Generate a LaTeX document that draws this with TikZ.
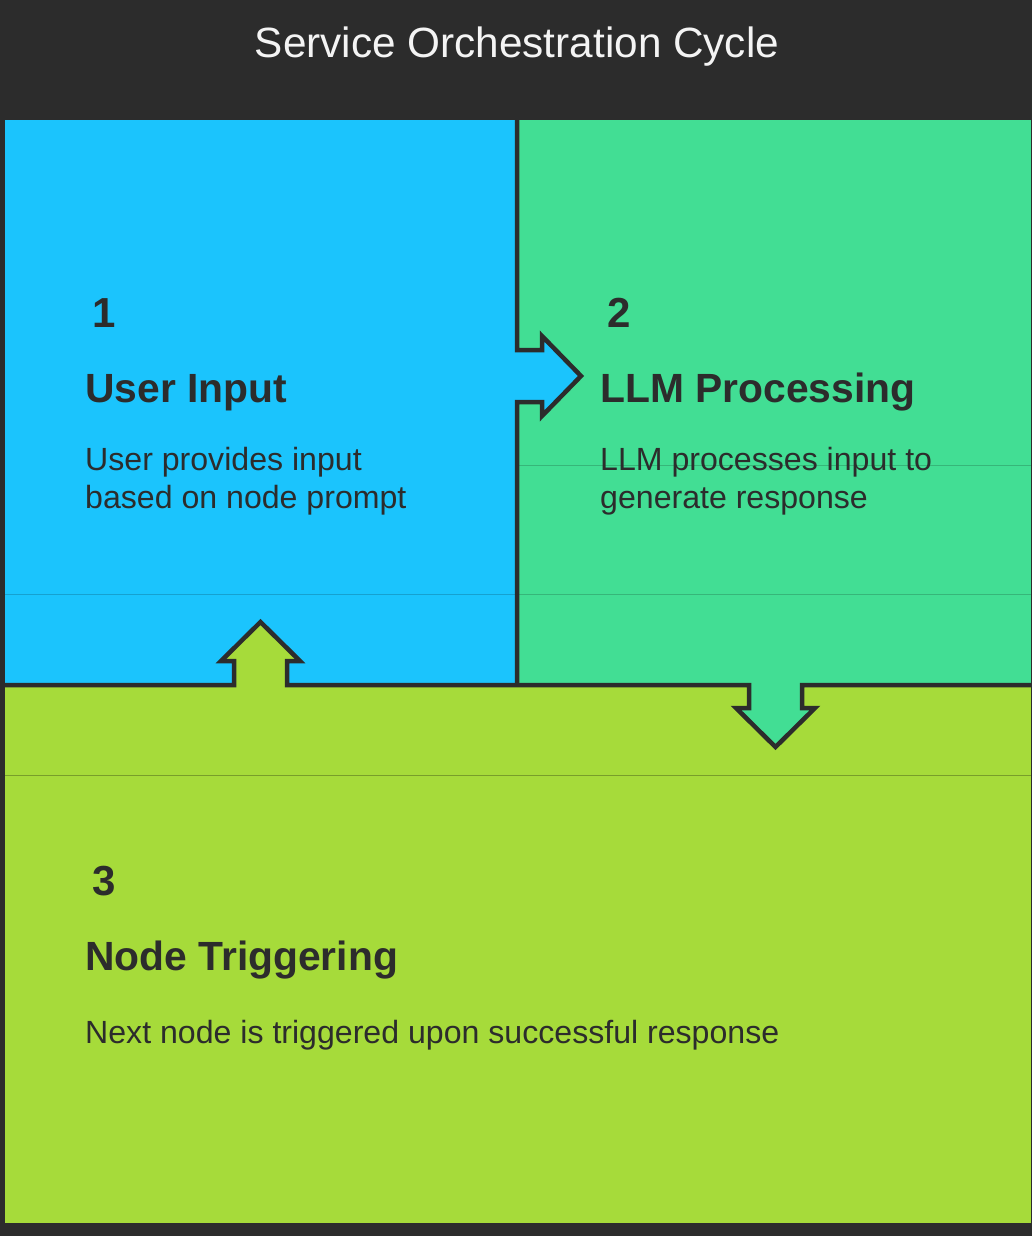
\documentclass[tikz,border=0pt]{standalone}
\usepackage{fontspec}
\setmainfont{Liberation Sans}
\definecolor{bg}{HTML}{2C2C2C}
\definecolor{cblue}{HTML}{1BC4FD}
\definecolor{cgreen}{HTML}{42DE94}
\definecolor{clime}{HTML}{A6DB3A}
\definecolor{ink}{HTML}{2C2C2C}
\definecolor{titlec}{HTML}{F4F4F4}
\tikzset{
  divider/.style={draw=ink,line width=4.5pt,line join=miter},
  faint/.style={line width=1pt},
  numtxt/.style={anchor=base west,inner sep=0pt,text=ink,font=\fontsize{42}{48}\selectfont\bfseries},
  headtxt/.style={anchor=base west,inner sep=0pt,text=ink,font=\fontsize{40.8}{48}\selectfont\bfseries},
  desctxt/.style={anchor=base west,inner sep=0pt,text=ink,font=\fontsize{32.1}{38}\selectfont},
}
\begin{document}
\begin{tikzpicture}[x=1pt,y=-1pt]
\fill[bg] (0,0) rectangle (1032,1236);
\useasboundingbox (0,0) rectangle (1032,1236);
\node[anchor=base,inner sep=0pt,text=titlec,font=\fontsize{42.3}{50}\selectfont] (title) at (517,58) {Service Orchestration Cycle};
% panels
\fill[cblue] (5,120) rectangle (517,685);
\fill[cgreen] (517,120) rectangle (1031,685);
\fill[clime] (5,685) rectangle (1031,1223);
% faint guide lines
\draw[faint,cblue!82!black] (5,594) -- (517,594);
\draw[faint,cgreen!82!black] (517,594) -- (1031,594);
\draw[faint,cgreen!82!black] (517,465) -- (1031,465);
\draw[faint,clime!72!black] (5,775) -- (1031,775);
% arrow fills
\fill[cblue] (517,350) -- (542,350) -- (542,336) -- (581,376) -- (542,416) -- (542,402) -- (517,402) -- cycle;
\fill[clime] (234,685) -- (234,661) -- (221,661) -- (260.5,622) -- (300,661) -- (287,661) -- (287,685) -- cycle;
\fill[cgreen] (749,685) -- (749,708) -- (736,708) -- (775.5,747) -- (815,708) -- (802,708) -- (802,685) -- cycle;
% divider outlines
\draw[divider] (517,120) -- (517,350) -- (542,350) -- (542,336) -- (581,376) -- (542,416) -- (542,402) -- (517,402) -- (517,685);
\draw[divider] (5,685) -- (234,685) -- (234,661) -- (221,661) -- (260.5,622) -- (300,661) -- (287,661) -- (287,685)
  -- (749,685) -- (749,708) -- (736,708) -- (775.5,747) -- (815,708) -- (802,708) -- (802,685) -- (1031,685);
% texts panel 1
\node[numtxt] (n1) at (92,327) {1};
\node[headtxt] (h1) at (85,402) {User Input};
\node[desctxt] (d1a) at (85,470) {User provides input};
\node[desctxt] (d1b) at (85,508) {based on node prompt};
% texts panel 2
\node[numtxt] (n2) at (607,327) {2};
\node[headtxt] (h2) at (600,402) {LLM Processing};
\node[desctxt] (d2a) at (600,470) {LLM processes input to};
\node[desctxt] (d2b) at (600,508) {generate response};
% texts panel 3
\node[numtxt] (n3) at (92,895) {3};
\node[headtxt] (h3) at (85,970) {Node Triggering};
\node[desctxt] (d3a) at (85,1043) {Next node is triggered upon successful response};
\end{tikzpicture}
\end{document}
